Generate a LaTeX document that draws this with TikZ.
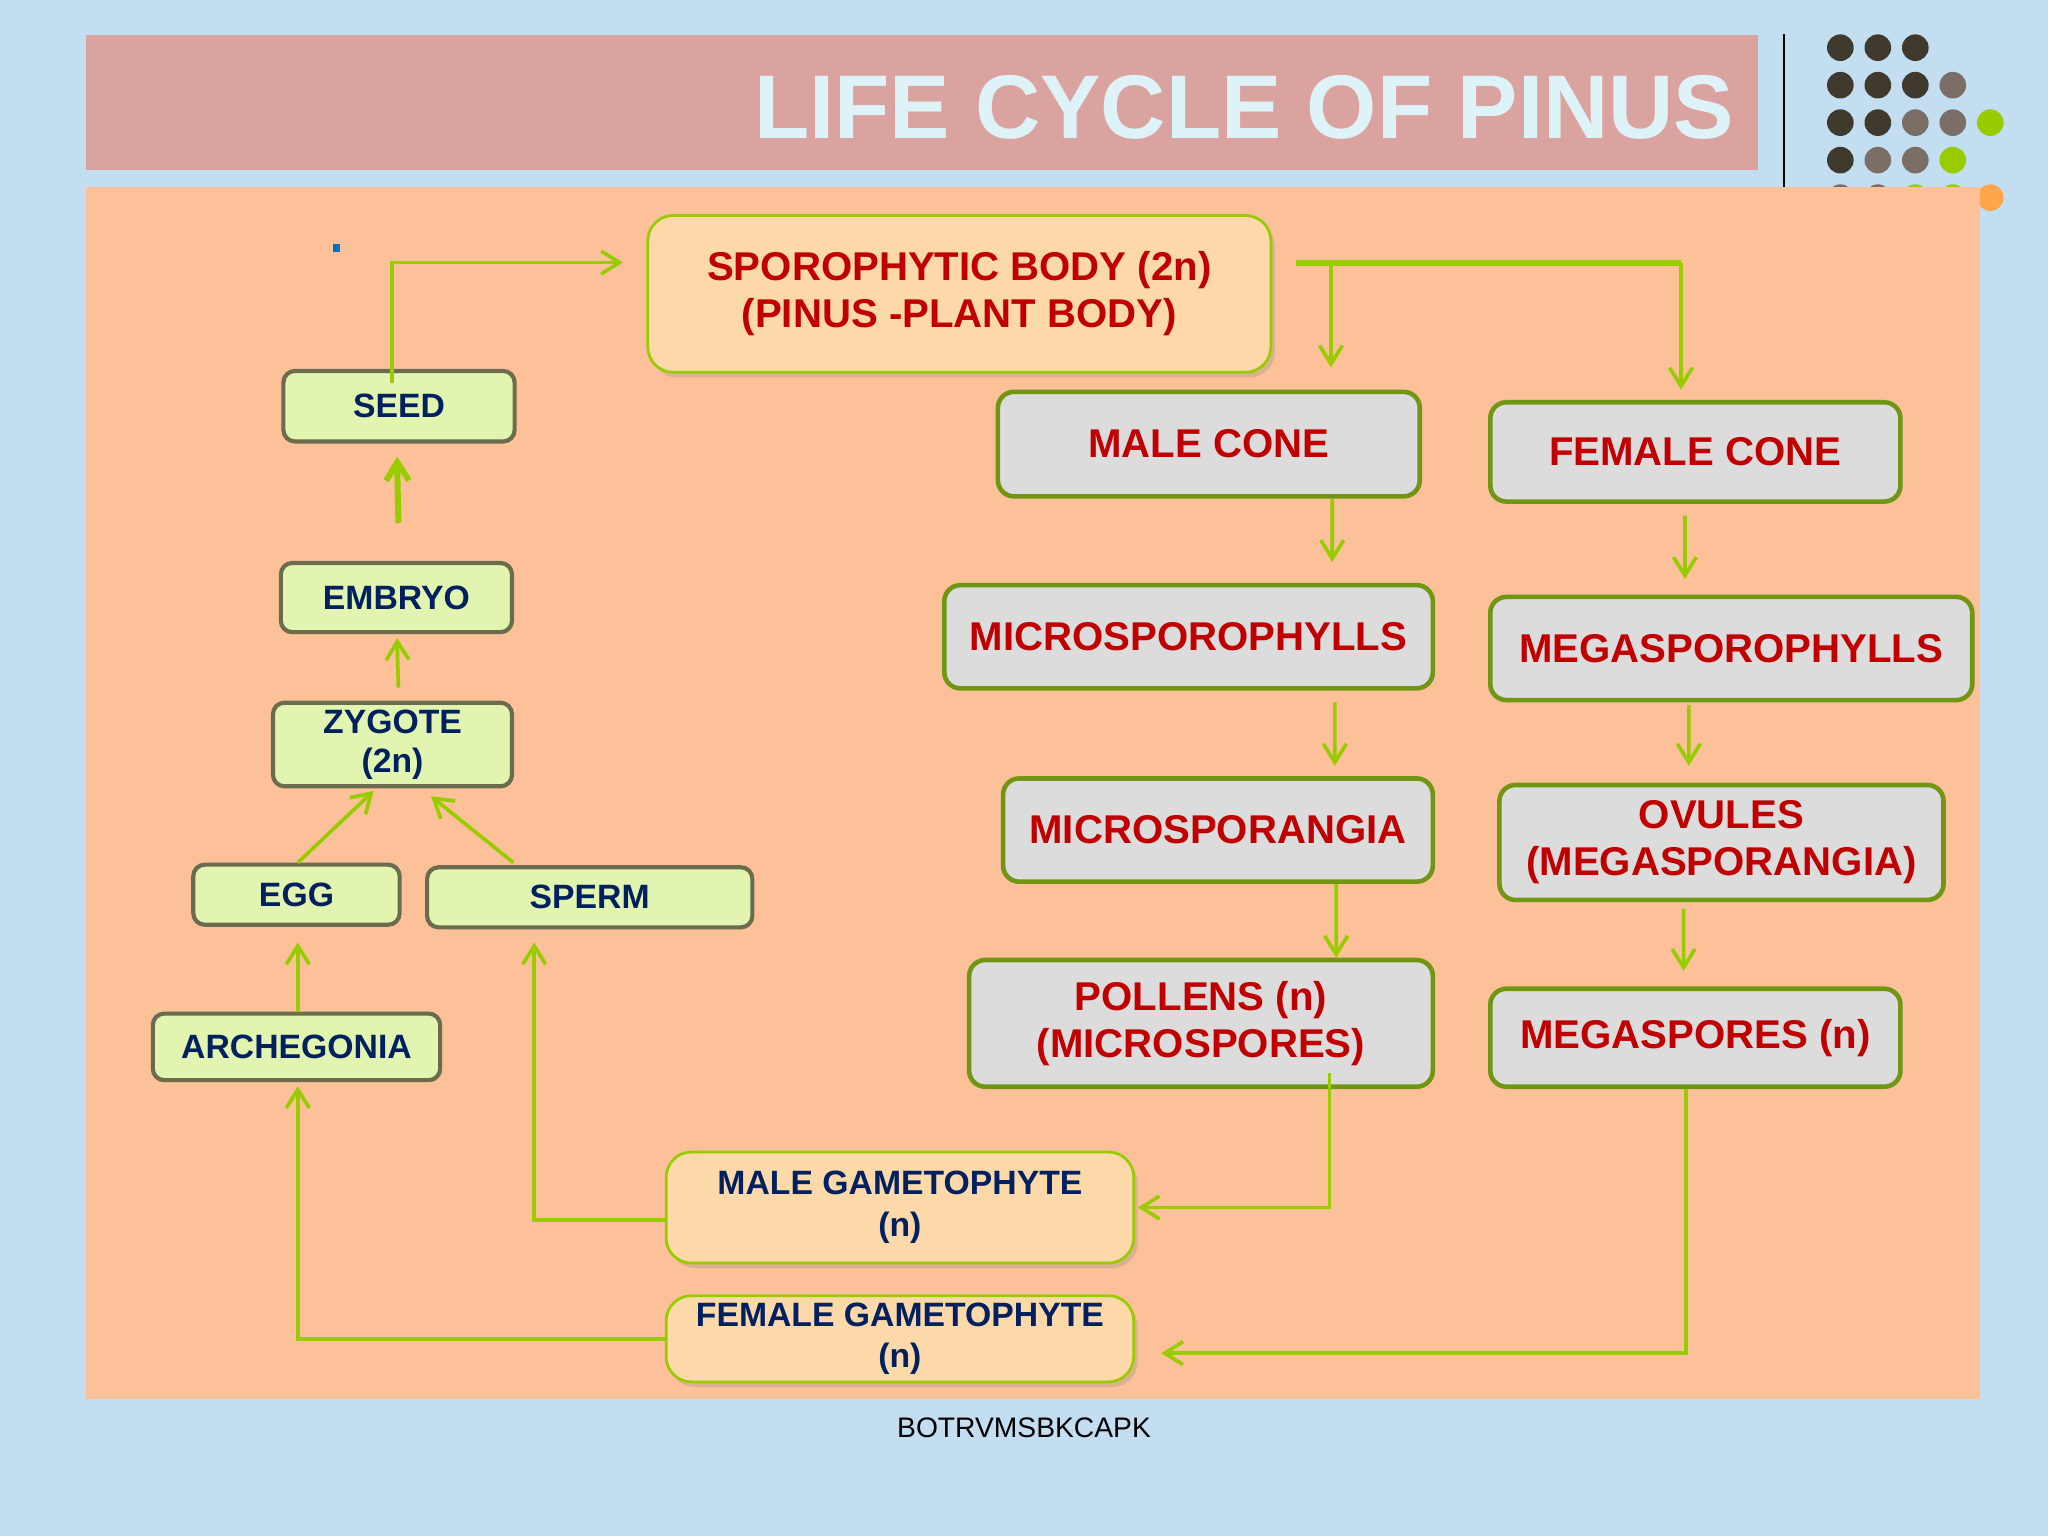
\documentclass[tikz,border=0pt]{standalone}
\usepackage{fontspec}
\setmainfont{Liberation Sans}
\usetikzlibrary{arrows.meta,shadows}

\definecolor{slideblue}{RGB}{194,222,240}
\definecolor{titlepink}{RGB}{219,163,160}
\definecolor{titletext}{RGB}{221,243,248}
\definecolor{panelpeach}{RGB}{252,193,153}
\definecolor{boxpeach}{RGB}{253,216,168}
\definecolor{leafgreen}{RGB}{153,204,0}
\definecolor{conegreen}{RGB}{112,150,20}
\definecolor{conegrey}{RGB}{220,220,220}
\definecolor{stagelime}{RGB}{226,245,176}
\definecolor{stageedge}{RGB}{107,107,78}
\definecolor{darkred}{RGB}{192,0,0}
\definecolor{navytext}{RGB}{0,32,96}
\definecolor{dotdark}{RGB}{64,58,46}
\definecolor{dotgrey}{RGB}{122,110,102}
\definecolor{dotorange}{RGB}{255,166,77}
\definecolor{markblue}{RGB}{0,112,192}

\newcommand{\titlefont}{\bfseries\fontsize{39.4pt}{44pt}\selectfont}
\newcommand{\conefont}{\bfseries\fontsize{17.5pt}{20.5pt}\selectfont}
\newcommand{\stagefont}{\bfseries\fontsize{14.7pt}{16.8pt}\selectfont}
\newcommand{\gamefont}{\bfseries\fontsize{14.7pt}{18.2pt}\selectfont}

\begin{document}
\begin{tikzpicture}[x=0.2mm, y=-0.2mm,
    conebox/.style={draw=conegreen, line width=2pt, fill=conegrey, rounded corners=7pt, align=center, text=darkred, font=\conefont, inner sep=1pt},
    gamebox/.style={draw=leafgreen, line width=1.2pt, fill=boxpeach, rounded corners=11pt, align=center, inner sep=1pt, drop shadow={shadow xshift=0.6mm, shadow yshift=-0.8mm, opacity=0.25}},
    stagebox/.style={draw=stageedge, line width=1.8pt, fill=stagelime, rounded corners=5pt, align=center, text=navytext, font=\stagefont, inner sep=1pt},
    arr/.style={-{Straight Barb[length=8pt,width=10pt]}, draw=leafgreen, line width=1.6pt},
    bar/.style={draw=leafgreen, line width=2.6pt}
]
\useasboundingbox (0,0) rectangle (1568,1176);

% slide background
\fill[slideblue] (0,0) rectangle (1568,1176);
\fill[titlepink] (66,27) rectangle (1346,130);
\draw[line width=0.9pt] (1366,26) -- (1366,143);
\foreach \col/\row/\shade in {1/1/dotdark, 2/1/dotdark, 3/1/dotdark,
    1/2/dotdark, 2/2/dotdark, 3/2/dotdark, 4/2/dotgrey,
    1/3/dotdark, 2/3/dotdark, 3/3/dotgrey, 4/3/dotgrey, 5/3/leafgreen,
    1/4/dotdark, 2/4/dotgrey, 3/4/dotgrey, 4/4/leafgreen,
    1/5/dotgrey, 2/5/dotgrey, 3/5/leafgreen, 4/5/leafgreen, 5/5/dotorange}
  \fill[\shade] ({1409+28.7*(\col-1)},{36.5+28.7*(\row-1)}) circle[radius=2.04mm];
\fill[panelpeach] (66,143) rectangle (1516,1071);
\fill[markblue] (255,187) rectangle (260,193);

\node[anchor=east, inner sep=0pt, text=titletext, font=\titlefont] (title) at (1328,82.5) {LIFE CYCLE OF PINUS};
\node[font=\fontsize{12.3pt}{14pt}\selectfont] (footer) at (784,1093) {BOTRVMSBKCAPK};

% sporophyte and cones
\node[gamebox, text=darkred, font=\conefont, minimum width=95.4mm, minimum height=24mm] (spor) at (734.5,225) {SPOROPHYTIC BODY (2n)\\(PINUS -PLANT BODY)};
\node[conebox, minimum width=64.6mm, minimum height=16mm] (malecone) at (925.5,340) {MALE CONE};
\node[conebox, minimum width=62.8mm, minimum height=15.2mm] (femcone) at (1298,346) {FEMALE CONE};
\node[conebox, minimum width=74.8mm, minimum height=15.8mm] (microphyll) at (910,487.5) {MICROSPOROPHYLLS};
\node[conebox, minimum width=73.8mm, minimum height=15.8mm] (megaphyll) at (1325.5,496.5) {MEGASPOROPHYLLS};
\node[conebox, minimum width=65.8mm, minimum height=15.8mm] (microsporangia) at (932.5,635.5) {MICROSPORANGIA};
\node[conebox, minimum width=68mm, minimum height=17.6mm] (ovules) at (1318,645) {OVULES\\(MEGASPORANGIA)};
\node[conebox, minimum width=71mm, minimum height=19.4mm] (pollens) at (919.5,783.5) {POLLENS (n)\\(MICROSPORES)};
\node[conebox, minimum width=62.8mm, minimum height=15mm] (megaspores) at (1298,794.5) {MEGASPORES (n)};

% gametophytes
\node[gamebox, text=navytext, font=\gamefont, minimum width=71.6mm, minimum height=17mm] (malegam) at (689,924.5) {MALE GAMETOPHYTE\\(n)};
\node[gamebox, text=navytext, font=\gamefont, minimum width=71.6mm, minimum height=13.2mm] (femgam) at (689,1025) {FEMALE GAMETOPHYTE\\(n)};

% left column
\node[stagebox, minimum width=35.4mm, minimum height=10.8mm] (seed) at (305.5,311) {SEED};
\node[stagebox, minimum width=35.4mm, minimum height=10.6mm] (embryo) at (303.5,457.5) {EMBRYO};
\node[stagebox, minimum width=36.6mm, minimum height=12.8mm] (zygote) at (300.5,570) {ZYGOTE\\(2n)};
\node[stagebox, minimum width=31.6mm, minimum height=9.2mm] (egg) at (227,685) {EGG};
\node[stagebox, minimum width=49.8mm, minimum height=9.2mm] (sperm) at (451.5,687) {SPERM};
\node[stagebox, minimum width=44mm, minimum height=10.2mm] (archegonia) at (227,801.5) {ARCHEGONIA};

% connectors
\draw[arr] ([xshift=-1.1mm,yshift=-2.2mm]seed.north) |- ([xshift=-3.6mm,yshift=4.8mm]spor.west);
\coordinate (split) at ([xshift=3.6mm,yshift=4.8mm]spor.east);
\coordinate (mc-in) at ([xshift=18.7mm,yshift=3.4mm]malecone.north);
\coordinate (fc-in) at ([xshift=-2.2mm,yshift=1.6mm]femcone.north);
\draw[bar] (split) -- (split -| fc-in);
\draw[arr] (split -| mc-in) -- (mc-in);
\draw[arr] (split -| fc-in) -- (fc-in);

\draw[arr] ([xshift=18.9mm]malecone.south) -- ([xshift=22mm,yshift=3.2mm]microphyll.north);
\draw[arr] ([xshift=-1.6mm,yshift=-1.8mm]femcone.south) -- ([xshift=-7.1mm,yshift=2.4mm]megaphyll.north);
\draw[arr] ([xshift=22.4mm,yshift=-1.8mm]microphyll.south) -- ([xshift=17.9mm,yshift=1.6mm]microsporangia.north);
\draw[arr] ([xshift=-6.5mm,yshift=-0.4mm]megaphyll.south) -- ([xshift=-5mm,yshift=2.6mm]ovules.north);
\draw[arr] ([xshift=18.1mm]microsporangia.south) -- ([xshift=20.7mm]pollens.north);
\draw[arr] ([xshift=-5.8mm,yshift=-1mm]ovules.south) -- ([xshift=-1.8mm,yshift=2.4mm]megaspores.north);

\draw[arr] ([xshift=19.7mm,yshift=2.4mm]pollens.south) |- ([xshift=0.4mm]malegam.east);
\draw[arr] ([xshift=-1.4mm]megaspores.south) |- ([xshift=4mm,yshift=-2.2mm]femgam.east);
\draw[arr] ([yshift=-1.9mm]malegam.west) -| ([xshift=-8.5mm,yshift=-2mm]sperm.south);
\draw[arr] (femgam.west) -| ([xshift=0.2mm,yshift=-0.6mm]archegonia.south);

\draw[arr] ([xshift=0.2mm]archegonia.north) -- ([xshift=0.2mm,yshift=-2.4mm]egg.south);
\draw[arr] ([xshift=0.2mm]egg.north) -- ([xshift=-2.9mm,yshift=-0.4mm]zygote.south);
\draw[arr] ([xshift=-11.7mm,yshift=0.4mm]sperm.north) -- ([xshift=5.9mm,yshift=-1.2mm]zygote.south);
\draw[arr] ([xshift=0.9mm,yshift=2mm]zygote.north) -- ([xshift=0.1mm,yshift=-0.6mm]embryo.south);
\draw[arr, line width=2.6pt] ([xshift=0.3mm,yshift=5.8mm]embryo.north) -- ([xshift=-0.3mm,yshift=-2mm]seed.south);
\end{tikzpicture}
\end{document}
